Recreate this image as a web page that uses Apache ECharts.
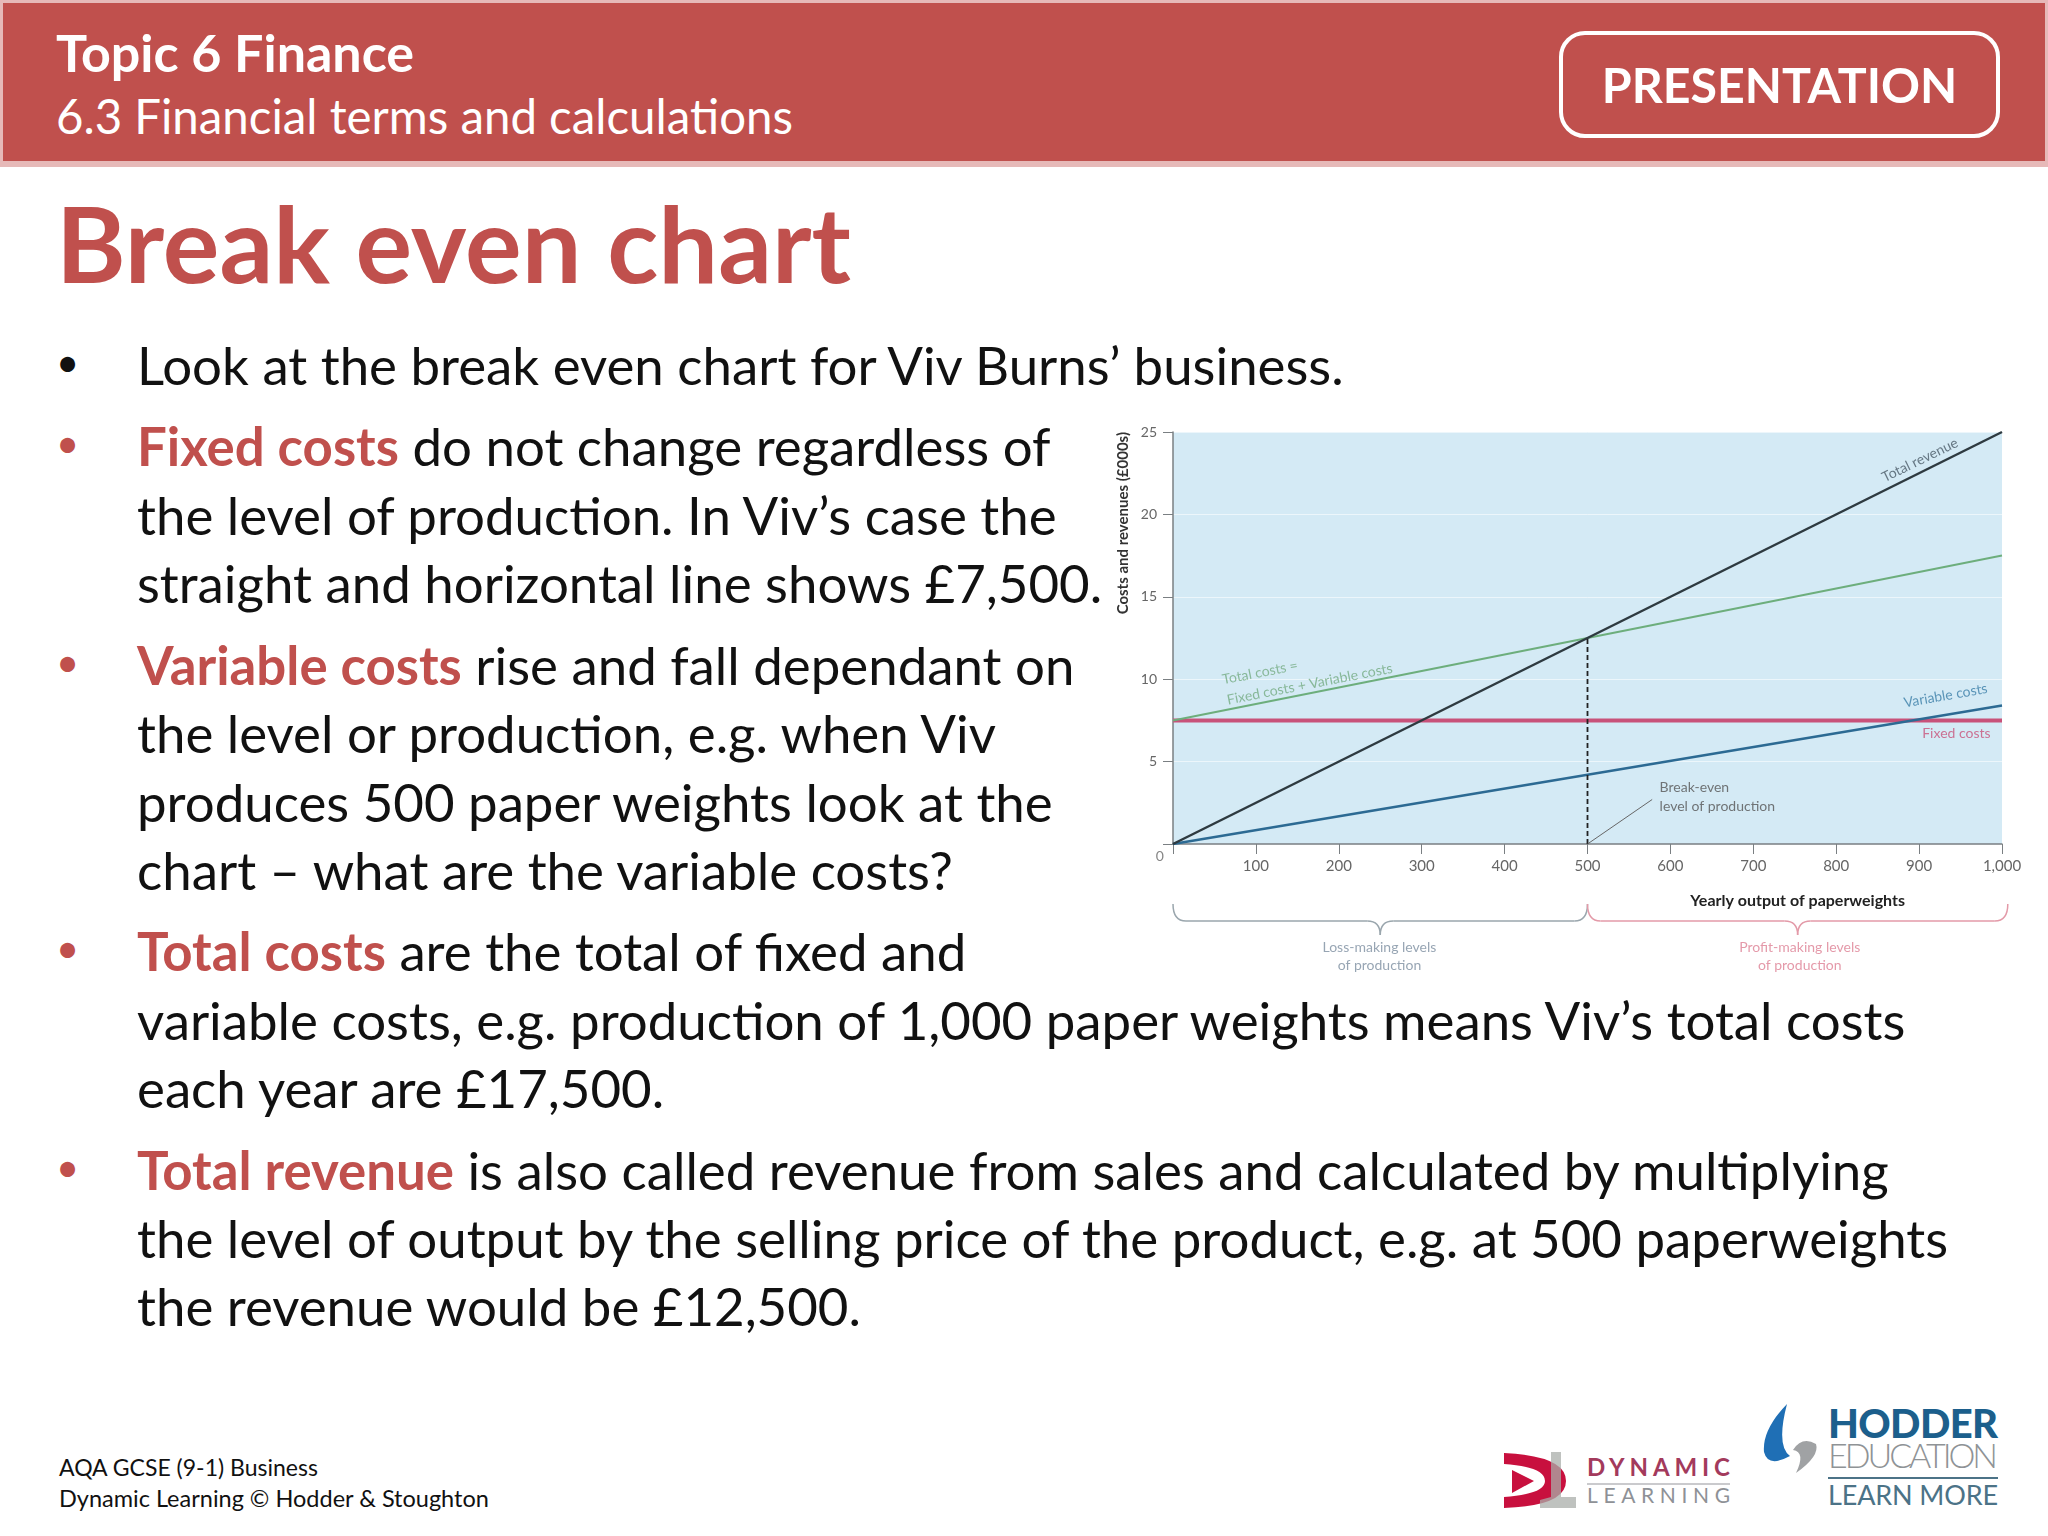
<!DOCTYPE html>
<html>
<head>
<meta charset="utf-8">
<title>Break even chart</title>
<script src="https://cdn.jsdelivr.net/npm/echarts@6/dist/echarts.min.js"></script>
<style>
html, body { margin: 0; padding: 0; background: #fff; }
body { width: 2048px; height: 1536px; position: relative; overflow: hidden; font-family: Lato, sans-serif; color: #111; }
.abs { position: absolute; white-space: nowrap; }
#band { left: 0; top: 0; width: 2048px; height: 167px; box-sizing: border-box; background: #C0504D; border: 3px solid #E6B9B8; border-width: 3px 3px 6px 3px; }
#box { left: 1559px; top: 31px; width: 441px; height: 107px; box-sizing: border-box; border: 4px solid #fff; border-radius: 26px; color: #fff; font-weight: 700; font-size: 48.3px; line-height: 99px; text-align: center; }
.line { left: 137px; font-size: 52.8px; line-height: 68px; height: 68px; }
.line b { color: #C0504D; }
.dot { left: 56px; font-size: 40px; line-height: 68px; }
#map { position: absolute; left: 1100px; top: 410px; width: 948px; height: 590px; }
</style>
</head>
<body>
<div class="abs" id="band"></div>
<div class="abs" style="left:56px;top:22px;color:#fff;font-weight:700;font-size:52px;line-height:60px">Topic 6 Finance</div>
<div class="abs" style="left:56px;top:86px;color:#fff;font-size:47.4px;line-height:60px">6.3 Financial terms and calculations</div>
<div class="abs" id="box">PRESENTATION</div>
<div class="abs" style="left:56px;top:182px;color:#C0504D;font-weight:700;font-size:106px;line-height:120px">Break even chart</div>
<div id="lines"></div>
<div class="abs" style="left:59px;top:1453px;font-size:23px;line-height:28px">AQA GCSE (9-1) Business</div>
<div class="abs" style="left:59px;top:1484px;font-size:23.5px;line-height:28px">Dynamic Learning © Hodder &amp; Stoughton</div>

<svg class="abs" style="left:1490px;top:1395px" width="540" height="130" viewBox="1490 1395 540 130">
  <path d="M1504 1453 Q1566 1456 1566 1481 Q1566 1506 1504 1508 L1504 1497 Q1545 1494 1545 1481 Q1545 1467 1504 1464 Z" fill="#C8103E"/>
  <path d="M1512 1470 L1534 1481 L1512 1493 Z" fill="#C8103E"/>
  <path d="M1551 1452 L1561 1452 L1561 1497 L1576 1497 L1576 1508 L1540 1508 L1540 1500 L1551 1497 Z" fill="#A9ADAA" opacity="0.75"/>
  <text x="1587" y="1476" font-family="Lato" font-size="24" font-weight="700" fill="#A33A5C" textLength="143">DYNAMIC</text>
  <line x1="1587" y1="1484" x2="1730" y2="1484" stroke="#B9B9BD" stroke-width="1.5"/>
  <text x="1587" y="1503" font-family="Lato" font-size="21" fill="#8E9196" textLength="143">LEARNING</text>
  <path d="M1787 1404 Q1762 1430 1764 1452 Q1768 1468 1790 1456 Q1776 1446 1787 1404 Z" fill="#1F6FB5"/>
  <path d="M1793 1450 Q1802 1436 1816 1444 Q1820 1456 1796 1473 Q1806 1452 1793 1450 Z" fill="#A0A2A4"/>
  <text x="1828" y="1438" font-family="Lato" font-size="40" font-weight="900" fill="#1C5F8C" textLength="170">HODDER</text>
  <text x="1828" y="1468" font-family="Lato" font-size="34" font-weight="300" fill="#8F9396" textLength="170">EDUCATION</text>
  <line x1="1828" y1="1478" x2="1998" y2="1478" stroke="#4C7387" stroke-width="2"/>
  <text x="1828" y="1505" font-family="Lato" font-size="27" fill="#4C7387" textLength="170">LEARN MORE</text>
</svg>

<div id="map"></div>

<script>
// slide text, one row per printed line: [y, bullet, bold lead, rest]
var bodyLines = [
    [331, 1, '', 'Look at the break even chart for Viv Burns’ business.'],
    [412, 1, 'Fixed costs', ' do not change regardless of'],
    [481, 0, '', 'the level of production. In Viv’s case the'],
    [549, 0, '', 'straight and horizontal line shows £7,500.'],
    [631, 1, 'Variable costs', ' rise and fall dependant on'],
    [699, 0, '', 'the level or production, e.g. when Viv'],
    [768, 0, '', 'produces 500 paper weights look at the'],
    [836, 0, '', 'chart – what are the variable costs?'],
    [917, 1, 'Total costs', ' are the total of fixed and'],
    [986, 0, '', 'variable costs, e.g. production of 1,000 paper weights means Viv’s total costs'],
    [1054, 0, '', 'each year are £17,500.'],
    [1136, 1, 'Total revenue', ' is also called revenue from sales and calculated by multiplying'],
    [1204, 0, '', 'the level of output by the selling price of the product, e.g. at 500 paperweights'],
    [1272, 0, '', 'the revenue would be £12,500.']
];

var html = '';
bodyLines.forEach(function (l, i) {
    if (l[1]) {
        html += '<div class="abs dot" style="top:' + (l[0] - 3) + 'px;color:' + (i === 0 ? '#111' : '#C0504D') + '">•</div>';
    }
    html += '<div class="abs line" style="top:' + l[0] + 'px">' + (l[2] ? '<b>' + l[2] + '</b>' : '') + l[3] + '</div>';
});
document.getElementById('lines').innerHTML = html;

// chart values (costs in £000s)
var outputEnds = [0, 1000];
var totalRevenue = [0, 25];
var totalCosts = [7.5, 17.5];
var fixedCosts = [7.5, 7.5];
var variableCosts = [0, 8.4];
var breakEvenX = [500, 500];
var breakEvenY = [0, 12.5];
var leaderX = [500, 578];
var leaderY = [0, 2.7];

// text on the chart: [x, y, text, colour, rotate, align]
var notes = [
    [901, 23.3, 'Total revenue', '#4a5a66', 26, 'center'],
    [105, 10.4, 'Total costs =', '#74ab82', 11, 'center'],
    [165, 9.7, 'Fixed costs + Variable costs', '#74ab82', 11, 'center'],
    [932, 9.0, 'Variable costs', '#3b7ea8', 10, 'center'],
    [945, 6.7, 'Fixed costs', '#c8527a', 0, 'center'],
    [587, 3.4, 'Break-even', '#555555', 0, 'left'],
    [587, 2.3, 'level of production', '#555555', 0, 'left'],
    [249, -6.3, 'Loss-making levels', '#7d8fa0', 0, 'center'],
    [249, -7.4, 'of production', '#7d8fa0', 0, 'center'],
    [756, -6.3, 'Profit-making levels', '#dd7f93', 0, 'center'],
    [756, -7.4, 'of production', '#dd7f93', 0, 'center'],
    [-16, -0.75, '0', '#666666', 0, 'center']
];

var chartDom = document.getElementById('map');
var myChart = echarts.init(chartDom);

function line(name, xs, ys, color, width, type) {
    return {
        name: name,
        type: 'line',
        data: xs.map(function (x, i) { return [x, ys[i]]; }),
        symbol: 'none',
        silent: true,
        lineStyle: { color: color, width: width, type: type || 'solid' }
    };
}

var option = {
    animation: false,
    backgroundColor: '#fff',
    textStyle: { fontFamily: 'Lato' },
    grid: {
        left: 73, right: 46, top: 22, bottom: 156,
        show: true,
        backgroundColor: '#D4EAF5',
        borderWidth: 0
    },
    xAxis: {
        type: 'value',
        min: 0,
        max: 1000,
        interval: 100,
        name: 'Yearly output of paperweights',
        nameLocation: 'end',
        nameGap: -97,
        nameMoveOverlap: false,
        nameTextStyle: { align: 'right', verticalAlign: 'top', padding: [49, 0, 0, 0], fontSize: 16, fontWeight: 700, color: '#222' },
        axisLine: { lineStyle: { color: '#7a7f82', width: 1.5 } },
        axisTick: { show: true, length: 10, lineStyle: { color: '#7a7f82' } },
        axisLabel: {
            fontSize: 15,
            color: '#666',
            margin: 15,
            showMinLabel: true,
            showMaxLabel: true,
            formatter: function (v) { return v === 0 ? '' : (v === 1000 ? '1,000' : '' + v); }
        },
        splitLine: { show: false }
    },
    yAxis: {
        type: 'value',
        min: 0,
        max: 25,
        interval: 5,
        name: 'Costs and revenues (£000s)',
        nameLocation: 'end',
        nameRotate: 90,
        nameGap: 0,
        nameMoveOverlap: false,
        nameTextStyle: { align: 'right', verticalAlign: 'bottom', padding: [0, 0, 42, 0], fontSize: 15, fontWeight: 700, color: '#333' },
        axisLine: { show: true, lineStyle: { color: '#7a7f82', width: 1.5 } },
        axisTick: { show: true, length: 10, lineStyle: { color: '#7a7f82' } },
        axisLabel: {
            fontSize: 14,
            color: '#666',
            margin: 16,
            formatter: function (v) { return v === 0 ? '' : '' + v; }
        },
        splitLine: { show: true, lineStyle: { color: 'rgba(255,255,255,0.55)', width: 1 } }
    },
    series: [
        line('Fixed costs', outputEnds, fixedCosts, '#C8527A', 4),
        line('Total costs', outputEnds, totalCosts, '#6DAE7C', 2),
        line('Variable costs', outputEnds, variableCosts, '#2C6A93', 2.5),
        line('Total revenue', outputEnds, totalRevenue, '#2E3A40', 2.5),
        line('Break-even', breakEvenX, breakEvenY, '#222', 1.8, [5, 3]),
        line('Leader', leaderX, leaderY, '#666', 1),
        {
            name: 'Notes',
            type: 'scatter',
            silent: true,
            clip: false,
            symbolSize: 0,
            data: notes.map(function (n) {
                return {
                    value: [n[0], n[1]],
                    label: {
                        show: true,
                        position: 'inside',
                        formatter: n[2],
                        color: n[3],
                        rotate: n[4],
                        align: n[5],
                        verticalAlign: 'middle',
                        fontSize: 14
                    }
                };
            })
        }
    ]
};
myChart.setOption(option);

// curly brackets under the axis, placed from the x scale
function brace(x0, x1, color) {
    var a = myChart.convertToPixel({ xAxisIndex: 0 }, x0);
    var b = myChart.convertToPixel({ xAxisIndex: 0 }, x1);
    var c = (a + b) / 2;
    var t = 494, m = 511, e = 525, r = 13;
    var style = { fill: null, stroke: color, lineWidth: 1.5 };
    function curve(x1, y1, cx, cy, x2, y2) {
        return { type: 'bezierCurve', silent: true, style: style, shape: { x1: x1, y1: y1, cpx1: cx, cpy1: cy, x2: x2, y2: y2 } };
    }
    function bar(x1, x2) {
        return { type: 'line', silent: true, style: style, shape: { x1: x1, y1: m, x2: x2, y2: m } };
    }
    return [
        curve(a, t, a, m, a + r, m),
        bar(a + r, c - r),
        curve(c - r, m, c, m, c, e),
        curve(c, e, c, m, c + r, m),
        bar(c + r, b - r),
        curve(b - r, m, b, m, b, t)
    ];
}
myChart.setOption({
    graphic: brace(0, 500, '#9aa6ad').concat(brace(500, 1007, '#e39aa8'))
});
</script>
</body>
</html>
